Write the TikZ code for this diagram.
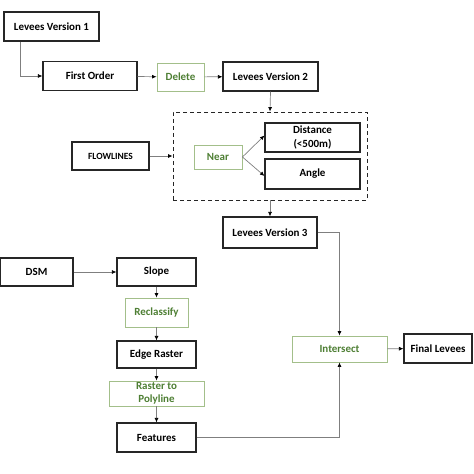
\documentclass[tikz,border=0pt]{standalone}
\usepackage{fontspec}
\setmainfont{Carlito}
\usetikzlibrary{arrows.meta,positioning,calc}

\definecolor{boxline}{HTML}{262626}
\definecolor{opline}{HTML}{A3BF8A}
\definecolor{optext}{HTML}{4E7F34}
\definecolor{conn}{HTML}{7F7F7F}

\begin{document}
\begin{tikzpicture}[
  x=1bp, y=-1bp,
  font=\fontsize{11}{13.5}\selectfont\bfseries,
  data/.style={draw=boxline, line width=1.1pt, fill=white, align=center, inner sep=1pt, minimum height=29bp},
  tool/.style={draw=opline, line width=0.9pt, fill=white, text=optext, align=center, inner sep=1pt, minimum height=27bp},
  group/.style={draw=boxline, line width=0.9pt, dash pattern=on 4bp off 3bp},
  arr/.style={draw=conn, line width=0.7pt, -{Latex[length=4.5bp,width=4bp,color=black]}}
]
  \useasboundingbox (0,0) rectangle (474,474);

  % Top row
  \node[data, minimum width=95bp] (lv1) at (51.5,26.5) {Levees Version 1};
  \node[data, minimum width=94bp] (first) at (90,76) {First Order};
  \node[tool, minimum width=47bp, minimum height=28bp] (delete) at (180.5,77) {Delete};
  \node[data, minimum width=95bp] (lv2) at (270.5,76.5) {Levees Version 2};

  \draw[arr] ([xshift=17bp]lv1.south west) |- (first.west);
  \draw[arr] (first) -- (delete);
  \draw[arr] (delete) -- (lv2);

  % Near analysis
  \node[group, minimum width=194bp, minimum height=88bp] (nearbox) at (270,156) {};
  \node[data, minimum width=77bp, minimum height=28bp, font=\fontsize{9.5}{11}\selectfont\bfseries] (flow) at (110.5,156) {FLOWLINES};
  \node[tool, minimum width=48bp, minimum height=24bp] (near) at (218,157) {Near};
  \node[data, minimum width=95bp, inner ysep=0pt] (dist) at (312.5,137.5) {Distance\\(<500m)};
  \node[data, minimum width=95bp, minimum height=30bp] (angle) at (312.5,174) {Angle};

  \draw[arr] (lv2.south) -- (nearbox.north);
  \draw[arr] (flow) -- (nearbox.west);
  \draw[arr] (near.east) -- ([yshift=2bp]dist.west);
  \draw[arr] (near.east) -- ([yshift=-2bp]angle.west);

  \node[data, minimum width=94bp, minimum height=31bp] (lv3) at (270,232.5) {Levees Version 3};
  \draw[arr] (nearbox.south) -- (lv3.north);

  % Slope branch
  \node[data, minimum width=73bp, minimum height=28bp] (dsm) at (36.5,272) {DSM};
  \node[data, minimum width=79bp, minimum height=28bp] (slope) at (156.5,272) {Slope};
  \node[tool, minimum width=63bp, minimum height=29bp] (recl) at (156.5,312.5) {Reclassify};
  \node[data, minimum width=79bp, minimum height=27bp] (edge) at (156.5,354.5) {Edge Raster};
  \node[tool, minimum width=95bp, minimum height=25bp, inner ysep=-2.5bp] (r2p) at (156.5,393.5) {Raster to\\Polyline};
  \node[data, minimum width=79bp] (feat) at (156.5,437.5) {Features};

  \draw[arr] (dsm) -- (slope);
  \draw[arr] (slope) -- (recl);
  \draw[arr] (recl) -- (edge);
  \draw[arr] (edge) -- (r2p);
  \draw[arr] (r2p) -- (feat);

  % Result
  \node[tool, minimum width=95bp, minimum height=26bp] (inter) at (339.5,349) {Intersect};
  \node[data, minimum width=68bp] (final) at (438,348.5) {Final Levees};

  \draw[arr] (lv3.east) -| (inter.north);
  \draw[arr] (feat.east) -| (inter.south);
  \draw[arr] (inter) -- (final);
\end{tikzpicture}
\end{document}
